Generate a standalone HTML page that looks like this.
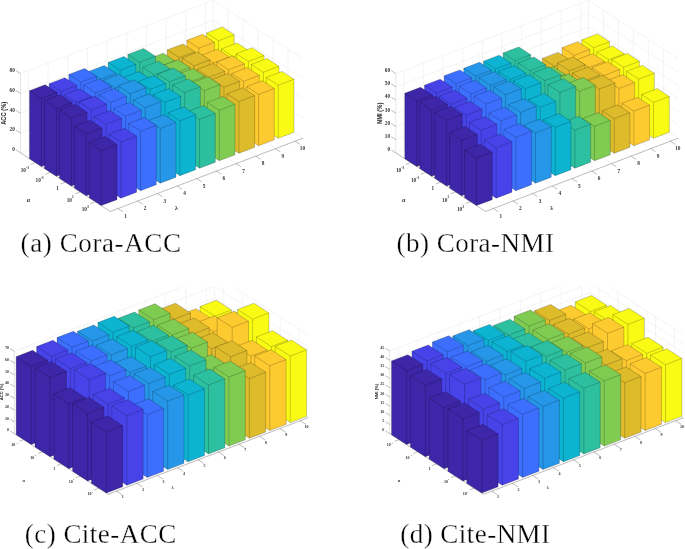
<!DOCTYPE html>
<html><head><meta charset="utf-8"><title>Parameter sensitivity</title><style>body{margin:0;background:#fff;overflow:hidden}svg{display:block}
.g{stroke:#e8e8e8;stroke-width:0.5;fill:none}
.a{stroke:#6a6a6a;stroke-width:0.45;fill:none}
.zx{stroke:#d2d2d2;stroke-width:0.55;fill:none}
polygon{stroke:#000;stroke-opacity:0.4;stroke-width:0.5;stroke-linejoin:round}
.e{stroke:#000;stroke-opacity:0.4;stroke-width:0.5;fill:none;stroke-linejoin:round}
.tl{font-family:"Liberation Serif",serif;font-weight:bold;fill:#333}
.zl{font-family:"Liberation Sans",sans-serif;font-weight:bold;fill:#262626}
.cap{font-family:"Liberation Serif",serif;font-size:27px;fill:#000;stroke:#fff;stroke-width:0.3}
</style></head><body>
<svg width="685" height="549" viewBox="0 0 685 549">
<g><line class="g" x1="28.37" y1="149.81" x2="28.37" y2="70.61"/><line class="g" x1="48.04" y1="142.33" x2="48.04" y2="63.13"/><line class="g" x1="67.71" y1="134.85" x2="67.71" y2="55.65"/><line class="g" x1="87.38" y1="127.37" x2="87.38" y2="48.17"/><line class="g" x1="107.05" y1="119.89" x2="107.05" y2="40.69"/><line class="g" x1="126.72" y1="112.41" x2="126.72" y2="33.21"/><line class="g" x1="146.39" y1="104.93" x2="146.39" y2="25.73"/><line class="g" x1="166.06" y1="97.45" x2="166.06" y2="18.25"/><line class="g" x1="185.73" y1="89.97" x2="185.73" y2="10.77"/><line class="g" x1="205.4" y1="82.49" x2="205.4" y2="3.29"/><line class="g" x1="20.5" y1="133" x2="213.27" y2="59.7"/><line class="g" x1="20.5" y1="113.2" x2="213.27" y2="39.9"/><line class="g" x1="20.5" y1="93.4" x2="213.27" y2="20.1"/><line class="g" x1="20.5" y1="73.6" x2="213.27" y2="0.3"/><line class="g" x1="228.22" y1="89.28" x2="228.22" y2="10.08"/><line class="g" x1="243.17" y1="99.06" x2="243.17" y2="19.86"/><line class="g" x1="258.12" y1="108.84" x2="258.12" y2="29.64"/><line class="g" x1="273.07" y1="118.62" x2="273.07" y2="39.42"/><line class="g" x1="288.02" y1="128.4" x2="288.02" y2="49.2"/><line class="g" x1="213.27" y1="79.5" x2="302.97" y2="138.18"/><line class="g" x1="213.27" y1="59.7" x2="302.97" y2="118.38"/><line class="g" x1="213.27" y1="39.9" x2="302.97" y2="98.58"/><line class="g" x1="213.27" y1="20.1" x2="302.97" y2="78.78"/><line class="g" x1="213.27" y1="0.3" x2="302.97" y2="58.98"/><line class="g" x1="28.37" y1="149.81" x2="118.07" y2="208.49"/><line class="g" x1="48.04" y1="142.33" x2="137.74" y2="201.01"/><line class="g" x1="67.71" y1="134.85" x2="157.41" y2="193.53"/><line class="g" x1="87.38" y1="127.37" x2="177.08" y2="186.05"/><line class="g" x1="107.05" y1="119.89" x2="196.75" y2="178.57"/><line class="g" x1="126.72" y1="112.41" x2="216.42" y2="171.09"/><line class="g" x1="146.39" y1="104.93" x2="236.09" y2="163.61"/><line class="g" x1="166.06" y1="97.45" x2="255.76" y2="156.13"/><line class="g" x1="185.73" y1="89.97" x2="275.43" y2="148.65"/><line class="g" x1="205.4" y1="82.49" x2="295.1" y2="141.17"/><line class="g" x1="35.45" y1="162.58" x2="228.22" y2="89.28"/><line class="g" x1="50.4" y1="172.36" x2="243.17" y2="99.06"/><line class="g" x1="65.35" y1="182.14" x2="258.12" y2="108.84"/><line class="g" x1="80.3" y1="191.92" x2="273.07" y2="118.62"/><line class="g" x1="95.25" y1="201.7" x2="288.02" y2="128.4"/><line class="g" x1="213.27" y1="79.5" x2="213.27" y2="0.3"/><line class="g" x1="20.5" y1="152.8" x2="213.27" y2="79.5"/></g>
<g><line class="zx" x1="20.5" y1="152.8" x2="20.5" y2="73.6"/><line class="a" x1="20.5" y1="152.8" x2="110.2" y2="211.48"/><line class="a" x1="110.2" y1="211.48" x2="302.97" y2="138.18"/><line class="a" x1="20.5" y1="152.8" x2="16.02" y2="149.87"/><line class="a" x1="20.5" y1="133" x2="16.02" y2="130.07"/><line class="a" x1="20.5" y1="113.2" x2="16.02" y2="110.27"/><line class="a" x1="20.5" y1="93.4" x2="16.02" y2="90.47"/><line class="a" x1="20.5" y1="73.6" x2="16.02" y2="70.67"/><line class="a" x1="35.45" y1="162.58" x2="30.53" y2="164.45"/><line class="a" x1="50.4" y1="172.36" x2="45.48" y2="174.23"/><line class="a" x1="65.35" y1="182.14" x2="60.43" y2="184.01"/><line class="a" x1="80.3" y1="191.92" x2="75.38" y2="193.79"/><line class="a" x1="95.25" y1="201.7" x2="90.33" y2="203.57"/><line class="a" x1="118.07" y1="208.49" x2="123" y2="211.72"/><line class="a" x1="137.74" y1="201.01" x2="142.67" y2="204.24"/><line class="a" x1="157.41" y1="193.53" x2="162.34" y2="196.76"/><line class="a" x1="177.08" y1="186.05" x2="182.01" y2="189.28"/><line class="a" x1="196.75" y1="178.57" x2="201.68" y2="181.8"/><line class="a" x1="216.42" y1="171.09" x2="221.35" y2="174.32"/><line class="a" x1="236.09" y1="163.61" x2="241.02" y2="166.84"/><line class="a" x1="255.76" y1="156.13" x2="260.69" y2="159.36"/><line class="a" x1="275.43" y1="148.65" x2="280.36" y2="151.88"/><line class="a" x1="295.1" y1="141.17" x2="300.03" y2="144.4"/></g>
<g><text class="tl" x="14.8" y="151.25" text-anchor="end" font-size="5.3">0</text><text class="tl" x="14.8" y="131.45" text-anchor="end" font-size="5.3">20</text><text class="tl" x="14.8" y="111.66" text-anchor="end" font-size="5.3">40</text><text class="tl" x="14.8" y="91.86" text-anchor="end" font-size="5.3">60</text><text class="tl" x="14.8" y="72.06" text-anchor="end" font-size="5.3">80</text><text class="tl" x="28.95" y="172.24" text-anchor="end" font-size="5.3">10<tspan dy="-3.18" font-size="3.6">-3</tspan></text><text class="tl" x="43.9" y="182.02" text-anchor="end" font-size="5.3">10<tspan dy="-3.18" font-size="3.6">-1</tspan></text><text class="tl" x="58.85" y="190.31" text-anchor="end" font-size="5.3">1</text><text class="tl" x="73.8" y="201.58" text-anchor="end" font-size="5.3">10<tspan dy="-3.18" font-size="3.6">1</tspan></text><text class="tl" x="88.75" y="211.36" text-anchor="end" font-size="5.3">10<tspan dy="-3.18" font-size="3.6">3</tspan></text><text class="tl" x="125.47" y="217.54" text-anchor="middle" font-size="5.3">1</text><text class="tl" x="145.14" y="210.06" text-anchor="middle" font-size="5.3">2</text><text class="tl" x="164.81" y="202.58" text-anchor="middle" font-size="5.3">3</text><text class="tl" x="184.48" y="195.1" text-anchor="middle" font-size="5.3">4</text><text class="tl" x="204.15" y="187.62" text-anchor="middle" font-size="5.3">5</text><text class="tl" x="223.82" y="180.14" text-anchor="middle" font-size="5.3">6</text><text class="tl" x="243.49" y="172.66" text-anchor="middle" font-size="5.3">7</text><text class="tl" x="263.16" y="165.18" text-anchor="middle" font-size="5.3">8</text><text class="tl" x="282.83" y="157.7" text-anchor="middle" font-size="5.3">9</text><text class="tl" x="302.5" y="150.22" text-anchor="middle" font-size="5.3">10</text><text class="tl" x="28.4" y="201.89" text-anchor="middle" font-size="5.83">&#945;</text><text class="tl" x="176.4" y="209.75" text-anchor="middle" font-size="5.83">&#955;</text><text class="zl" transform="translate(6.3,113.3) rotate(-90)" text-anchor="middle" font-size="6.4" textLength="23" lengthAdjust="spacingAndGlyphs">ACC (%)</text></g>
<polygon fill="rgb(249,251,21)" points="206.5,91.35 218.46,99.17 234.2,93.19 234.2,34.78 222.24,26.95 206.5,32.94"/><path class="e" d="M206.5,32.94L218.46,40.76L234.2,34.78M218.46,40.76L218.46,99.17"/>
<polygon fill="rgb(249,251,21)" points="221.45,101.13 233.41,108.95 249.15,102.97 249.15,50.79 237.19,42.97 221.45,48.95"/><path class="e" d="M221.45,48.95L233.41,56.78L249.15,50.79M233.41,56.78L233.41,108.95"/>
<polygon fill="rgb(249,251,21)" points="236.4,110.91 248.36,118.73 264.1,112.75 264.1,55.53 252.14,47.7 236.4,53.69"/><path class="e" d="M236.4,53.69L248.36,61.51L264.1,55.53M248.36,61.51L248.36,118.73"/>
<polygon fill="rgb(249,251,21)" points="251.35,120.69 263.31,128.51 279.05,122.53 279.05,66.3 267.09,58.47 251.35,64.46"/><path class="e" d="M251.35,64.46L263.31,72.28L279.05,66.3M263.31,72.28L263.31,128.51"/>
<polygon fill="rgb(249,251,21)" points="266.3,130.47 278.26,138.29 294,132.31 294,79.24 282.04,71.42 266.3,77.4"/><path class="e" d="M266.3,77.4L278.26,85.23L294,79.24M278.26,85.23L278.26,138.29"/>
<polygon fill="rgb(253,202,48)" points="186.83,98.83 198.79,106.65 214.53,100.67 214.53,42.16 202.57,34.33 186.83,40.32"/><path class="e" d="M186.83,40.32L198.79,48.14L214.53,42.16M198.79,48.14L198.79,106.65"/>
<polygon fill="rgb(253,202,48)" points="201.78,108.61 213.74,116.43 229.48,110.45 229.48,56.99 217.52,49.16 201.78,55.15"/><path class="e" d="M201.78,55.15L213.74,62.97L229.48,56.99M213.74,62.97L213.74,116.43"/>
<polygon fill="rgb(253,202,48)" points="216.73,118.39 228.69,126.21 244.43,120.23 244.43,63.8 232.47,55.97 216.73,61.96"/><path class="e" d="M216.73,61.96L228.69,69.78L244.43,63.8M228.69,69.78L228.69,126.21"/>
<polygon fill="rgb(253,202,48)" points="231.68,128.17 243.64,135.99 259.38,130.01 259.38,75.36 247.42,67.54 231.68,73.52"/><path class="e" d="M231.68,73.52L243.64,81.34L259.38,75.36M243.64,81.34L243.64,135.99"/>
<polygon fill="rgb(253,202,48)" points="246.63,137.95 258.59,145.77 274.33,139.79 274.33,88.51 262.37,80.68 246.63,86.67"/><path class="e" d="M246.63,86.67L258.59,94.49L274.33,88.51M258.59,94.49L258.59,145.77"/>
<polygon fill="rgb(221,187,43)" points="167.16,106.31 179.12,114.13 194.86,108.15 194.86,51.72 182.9,43.89 167.16,49.88"/><path class="e" d="M167.16,49.88L179.12,57.7L194.86,51.72M179.12,57.7L179.12,114.13"/>
<polygon fill="rgb(221,187,43)" points="182.11,116.09 194.07,123.91 209.81,117.93 209.81,59.91 197.85,52.09 182.11,58.07"/><path class="e" d="M182.11,58.07L194.07,65.9L209.81,59.91M194.07,65.9L194.07,123.91"/>
<polygon fill="rgb(221,187,43)" points="197.06,125.87 209.02,133.69 224.76,127.71 224.76,71.28 212.8,63.45 197.06,69.44"/><path class="e" d="M197.06,69.44L209.02,77.26L224.76,71.28M209.02,77.26L209.02,133.69"/>
<polygon fill="rgb(221,187,43)" points="212.01,135.65 223.97,143.47 239.71,137.49 239.71,81.26 227.75,73.43 212.01,79.42"/><path class="e" d="M212.01,79.42L223.97,87.24L239.71,81.26M223.97,87.24L223.97,143.47"/>
<polygon fill="rgb(221,187,43)" points="226.96,145.43 238.92,153.25 254.66,147.27 254.66,95.59 242.7,87.77 226.96,93.75"/><path class="e" d="M226.96,93.75L238.92,101.57L254.66,95.59M238.92,101.57L238.92,153.25"/>
<polygon fill="rgb(128,203,82)" points="147.49,113.79 159.45,121.61 175.19,115.63 175.19,60.98 163.23,53.16 147.49,59.14"/><path class="e" d="M147.49,59.14L159.45,66.96L175.19,60.98M159.45,66.96L159.45,121.61"/>
<polygon fill="rgb(128,203,82)" points="162.44,123.57 174.4,131.39 190.14,125.41 190.14,67.49 178.18,59.67 162.44,65.65"/><path class="e" d="M162.44,65.65L174.4,73.48L190.14,67.49M174.4,73.48L174.4,131.39"/>
<polygon fill="rgb(128,203,82)" points="177.39,133.35 189.35,141.17 205.09,135.19 205.09,76.28 193.13,68.46 177.39,74.44"/><path class="e" d="M177.39,74.44L189.35,82.27L205.09,76.28M189.35,82.27L189.35,141.17"/>
<polygon fill="rgb(128,203,82)" points="192.34,143.13 204.3,150.95 220.04,144.97 220.04,84.58 208.08,76.75 192.34,82.74"/><path class="e" d="M192.34,82.74L204.3,90.56L220.04,84.58M204.3,90.56L204.3,150.95"/>
<polygon fill="rgb(128,203,82)" points="207.29,152.91 219.25,160.73 234.99,154.75 234.99,104.26 223.03,96.43 207.29,102.42"/><path class="e" d="M207.29,102.42L219.25,110.24L234.99,104.26M219.25,110.24L219.25,160.73"/>
<polygon fill="rgb(45,192,160)" points="127.82,121.27 139.78,129.09 155.52,123.11 155.52,56.28 143.56,48.46 127.82,54.44"/><path class="e" d="M127.82,54.44L139.78,62.27L155.52,56.28M139.78,62.27L139.78,129.09"/>
<polygon fill="rgb(45,192,160)" points="142.77,131.05 154.73,138.87 170.47,132.89 170.47,69.03 158.51,61.21 142.77,67.19"/><path class="e" d="M142.77,67.19L154.73,75.02L170.47,69.03M154.73,75.02L154.73,138.87"/>
<polygon fill="rgb(45,192,160)" points="157.72,140.83 169.68,148.65 185.42,142.67 185.42,75.84 173.46,68.02 157.72,74"/><path class="e" d="M157.72,74L169.68,81.83L185.42,75.84M169.68,81.83L169.68,148.65"/>
<polygon fill="rgb(45,192,160)" points="172.67,150.61 184.63,158.43 200.37,152.45 200.37,86.71 188.41,78.89 172.67,84.87"/><path class="e" d="M172.67,84.87L184.63,92.7L200.37,86.71M184.63,92.7L184.63,158.43"/>
<polygon fill="rgb(45,192,160)" points="187.62,160.39 199.58,168.21 215.32,162.23 215.32,113.42 203.36,105.6 187.62,111.58"/><path class="e" d="M187.62,111.58L199.58,119.41L215.32,113.42M199.58,119.41L199.58,168.21"/>
<polygon fill="rgb(12,180,210)" points="108.15,128.75 120.11,136.57 135.85,130.59 135.85,64.26 123.89,56.43 108.15,62.42"/><path class="e" d="M108.15,62.42L120.11,70.24L135.85,64.26M120.11,70.24L120.11,136.57"/>
<polygon fill="rgb(12,180,210)" points="123.1,138.53 135.06,146.35 150.8,140.37 150.8,79.38 138.84,71.56 123.1,77.54"/><path class="e" d="M123.1,77.54L135.06,85.37L150.8,79.38M135.06,85.37L135.06,146.35"/>
<polygon fill="rgb(12,180,210)" points="138.05,148.31 150.01,156.13 165.75,150.15 165.75,83.42 153.79,75.6 138.05,81.58"/><path class="e" d="M138.05,81.58L150.01,89.41L165.75,83.42M150.01,89.41L150.01,156.13"/>
<polygon fill="rgb(12,180,210)" points="153,158.09 164.96,165.91 180.7,159.93 180.7,96.37 168.74,88.55 153,94.53"/><path class="e" d="M153,94.53L164.96,102.35L180.7,96.37M164.96,102.35L164.96,165.91"/>
<polygon fill="rgb(12,180,210)" points="167.95,167.87 179.91,175.69 195.65,169.71 195.65,114.76 183.69,106.94 167.95,112.92"/><path class="e" d="M167.95,112.92L179.91,120.75L195.65,114.76M179.91,120.75L179.91,175.69"/>
<polygon fill="rgb(37,150,232)" points="88.48,136.23 100.44,144.05 116.18,138.07 116.18,73.32 104.22,65.5 88.48,71.48"/><path class="e" d="M88.48,71.48L100.44,79.31L116.18,73.32M100.44,79.31L100.44,144.05"/>
<polygon fill="rgb(37,150,232)" points="103.43,146.01 115.39,153.83 131.13,147.85 131.13,82.01 119.17,74.19 103.43,80.17"/><path class="e" d="M103.43,80.17L115.39,88L131.13,82.01M115.39,88L115.39,153.83"/>
<polygon fill="rgb(37,150,232)" points="118.38,155.79 130.34,163.61 146.08,157.63 146.08,87.83 134.12,80.01 118.38,85.99"/><path class="e" d="M118.38,85.99L130.34,93.82L146.08,87.83M130.34,93.82L130.34,163.61"/>
<polygon fill="rgb(37,150,232)" points="133.33,165.57 145.29,173.39 161.03,167.41 161.03,101.67 149.07,93.85 133.33,99.83"/><path class="e" d="M133.33,99.83L145.29,107.66L161.03,101.67M145.29,107.66L145.29,173.39"/>
<polygon fill="rgb(37,150,232)" points="148.28,175.35 160.24,183.17 175.98,177.19 175.98,122.44 164.02,114.62 148.28,120.6"/><path class="e" d="M148.28,120.6L160.24,128.43L175.98,122.44M160.24,128.43L160.24,183.17"/>
<polygon fill="rgb(60,111,253)" points="68.81,143.71 80.77,151.53 96.51,145.55 96.51,76.25 84.55,68.42 68.81,74.41"/><path class="e" d="M68.81,74.41L80.77,82.23L96.51,76.25M80.77,82.23L80.77,151.53"/>
<polygon fill="rgb(60,111,253)" points="83.76,153.49 95.72,161.31 111.46,155.33 111.46,86.72 99.5,78.9 83.76,84.88"/><path class="e" d="M83.76,84.88L95.72,92.71L111.46,86.72M95.72,92.71L95.72,161.31"/>
<polygon fill="rgb(60,111,253)" points="98.71,163.27 110.67,171.09 126.41,165.11 126.41,96.4 114.45,88.58 98.71,94.56"/><path class="e" d="M98.71,94.56L110.67,102.39L126.41,96.4M110.67,102.39L110.67,171.09"/>
<polygon fill="rgb(60,111,253)" points="113.66,173.05 125.62,180.87 141.36,174.89 141.36,110.24 129.4,102.42 113.66,108.4"/><path class="e" d="M113.66,108.4L125.62,116.23L141.36,110.24M125.62,116.23L125.62,180.87"/>
<polygon fill="rgb(60,111,253)" points="128.61,182.83 140.57,190.65 156.31,184.67 156.31,125.27 144.35,117.44 128.61,123.43"/><path class="e" d="M128.61,123.43L140.57,131.25L156.31,125.27M140.57,131.25L140.57,190.65"/>
<polygon fill="rgb(71,67,233)" points="49.14,151.19 61.1,159.01 76.84,153.03 76.84,85.51 64.88,77.69 49.14,83.67"/><path class="e" d="M49.14,83.67L61.1,91.49L76.84,85.51M61.1,91.49L61.1,159.01"/>
<polygon fill="rgb(71,67,233)" points="64.09,160.97 76.05,168.79 91.79,162.81 91.79,96.58 79.83,88.75 64.09,94.74"/><path class="e" d="M64.09,94.74L76.05,102.56L91.79,96.58M76.05,102.56L76.05,168.79"/>
<polygon fill="rgb(71,67,233)" points="79.04,170.75 91,178.57 106.74,172.59 106.74,103.98 94.78,96.16 79.04,102.14"/><path class="e" d="M79.04,102.14L91,109.97L106.74,103.98M91,109.97L91,178.57"/>
<polygon fill="rgb(71,67,233)" points="93.99,180.53 105.95,188.35 121.69,182.37 121.69,118.32 109.73,110.49 93.99,116.48"/><path class="e" d="M93.99,116.48L105.95,124.3L121.69,118.32M105.95,124.3L105.95,188.35"/>
<polygon fill="rgb(71,67,233)" points="108.94,190.31 120.9,198.13 136.64,192.15 136.64,136.11 124.68,128.29 108.94,134.27"/><path class="e" d="M108.94,134.27L120.9,142.1L136.64,136.11M120.9,142.1L120.9,198.13"/>
<polygon fill="rgb(62,38,168)" points="29.47,158.67 41.43,166.49 57.17,160.51 57.17,92.59 45.21,84.77 29.47,90.75"/><path class="e" d="M29.47,90.75L41.43,98.58L57.17,92.59M41.43,98.58L41.43,166.49"/>
<polygon fill="rgb(62,38,168)" points="44.42,168.45 56.38,176.27 72.12,170.29 72.12,102.57 60.16,94.75 44.42,100.73"/><path class="e" d="M44.42,100.73L56.38,108.56L72.12,102.57M56.38,108.56L56.38,176.27"/>
<polygon fill="rgb(62,38,168)" points="59.37,178.23 71.33,186.05 87.07,180.07 87.07,112.15 75.11,104.33 59.37,110.31"/><path class="e" d="M59.37,110.31L71.33,118.14L87.07,112.15M71.33,118.14L71.33,186.05"/>
<polygon fill="rgb(62,38,168)" points="74.32,188.01 86.28,195.83 102.02,189.85 102.02,127.97 90.06,120.15 74.32,126.13"/><path class="e" d="M74.32,126.13L86.28,133.96L102.02,127.97M86.28,133.96L86.28,195.83"/>
<polygon fill="rgb(62,38,168)" points="89.27,197.79 101.23,205.61 116.97,199.63 116.97,144.39 105.01,136.56 89.27,142.55"/><path class="e" d="M89.27,142.55L101.23,150.37L116.97,144.39M101.23,150.37L101.23,205.61"/>
<g><line class="g" x1="403.67" y1="149.81" x2="403.67" y2="70.61"/><line class="g" x1="423.34" y1="142.33" x2="423.34" y2="63.13"/><line class="g" x1="443.01" y1="134.85" x2="443.01" y2="55.65"/><line class="g" x1="462.68" y1="127.37" x2="462.68" y2="48.17"/><line class="g" x1="482.35" y1="119.89" x2="482.35" y2="40.69"/><line class="g" x1="502.02" y1="112.41" x2="502.02" y2="33.21"/><line class="g" x1="521.69" y1="104.93" x2="521.69" y2="25.73"/><line class="g" x1="541.36" y1="97.45" x2="541.36" y2="18.25"/><line class="g" x1="561.03" y1="89.97" x2="561.03" y2="10.77"/><line class="g" x1="580.7" y1="82.49" x2="580.7" y2="3.29"/><line class="g" x1="395.8" y1="139.6" x2="588.57" y2="66.3"/><line class="g" x1="395.8" y1="126.4" x2="588.57" y2="53.1"/><line class="g" x1="395.8" y1="113.2" x2="588.57" y2="39.9"/><line class="g" x1="395.8" y1="100" x2="588.57" y2="26.7"/><line class="g" x1="395.8" y1="86.8" x2="588.57" y2="13.5"/><line class="g" x1="395.8" y1="73.6" x2="588.57" y2="0.3"/><line class="g" x1="603.52" y1="89.28" x2="603.52" y2="10.08"/><line class="g" x1="618.47" y1="99.06" x2="618.47" y2="19.86"/><line class="g" x1="633.42" y1="108.84" x2="633.42" y2="29.64"/><line class="g" x1="648.37" y1="118.62" x2="648.37" y2="39.42"/><line class="g" x1="663.32" y1="128.4" x2="663.32" y2="49.2"/><line class="g" x1="588.57" y1="79.5" x2="678.27" y2="138.18"/><line class="g" x1="588.57" y1="66.3" x2="678.27" y2="124.98"/><line class="g" x1="588.57" y1="53.1" x2="678.27" y2="111.78"/><line class="g" x1="588.57" y1="39.9" x2="678.27" y2="98.58"/><line class="g" x1="588.57" y1="26.7" x2="678.27" y2="85.38"/><line class="g" x1="588.57" y1="13.5" x2="678.27" y2="72.18"/><line class="g" x1="588.57" y1="0.3" x2="678.27" y2="58.98"/><line class="g" x1="403.67" y1="149.81" x2="493.37" y2="208.49"/><line class="g" x1="423.34" y1="142.33" x2="513.04" y2="201.01"/><line class="g" x1="443.01" y1="134.85" x2="532.71" y2="193.53"/><line class="g" x1="462.68" y1="127.37" x2="552.38" y2="186.05"/><line class="g" x1="482.35" y1="119.89" x2="572.05" y2="178.57"/><line class="g" x1="502.02" y1="112.41" x2="591.72" y2="171.09"/><line class="g" x1="521.69" y1="104.93" x2="611.39" y2="163.61"/><line class="g" x1="541.36" y1="97.45" x2="631.06" y2="156.13"/><line class="g" x1="561.03" y1="89.97" x2="650.73" y2="148.65"/><line class="g" x1="580.7" y1="82.49" x2="670.4" y2="141.17"/><line class="g" x1="410.75" y1="162.58" x2="603.52" y2="89.28"/><line class="g" x1="425.7" y1="172.36" x2="618.47" y2="99.06"/><line class="g" x1="440.65" y1="182.14" x2="633.42" y2="108.84"/><line class="g" x1="455.6" y1="191.92" x2="648.37" y2="118.62"/><line class="g" x1="470.55" y1="201.7" x2="663.32" y2="128.4"/><line class="g" x1="588.57" y1="79.5" x2="588.57" y2="0.3"/><line class="g" x1="395.8" y1="152.8" x2="588.57" y2="79.5"/></g>
<g><line class="zx" x1="395.8" y1="152.8" x2="395.8" y2="73.6"/><line class="a" x1="395.8" y1="152.8" x2="485.5" y2="211.48"/><line class="a" x1="485.5" y1="211.48" x2="678.27" y2="138.18"/><line class="a" x1="395.8" y1="152.8" x2="391.31" y2="149.87"/><line class="a" x1="395.8" y1="139.6" x2="391.31" y2="136.67"/><line class="a" x1="395.8" y1="126.4" x2="391.31" y2="123.47"/><line class="a" x1="395.8" y1="113.2" x2="391.31" y2="110.27"/><line class="a" x1="395.8" y1="100" x2="391.31" y2="97.07"/><line class="a" x1="395.8" y1="86.8" x2="391.31" y2="83.87"/><line class="a" x1="395.8" y1="73.6" x2="391.31" y2="70.67"/><line class="a" x1="410.75" y1="162.58" x2="405.83" y2="164.45"/><line class="a" x1="425.7" y1="172.36" x2="420.78" y2="174.23"/><line class="a" x1="440.65" y1="182.14" x2="435.73" y2="184.01"/><line class="a" x1="455.6" y1="191.92" x2="450.68" y2="193.79"/><line class="a" x1="470.55" y1="201.7" x2="465.63" y2="203.57"/><line class="a" x1="493.37" y1="208.49" x2="498.3" y2="211.72"/><line class="a" x1="513.04" y1="201.01" x2="517.97" y2="204.24"/><line class="a" x1="532.71" y1="193.53" x2="537.64" y2="196.76"/><line class="a" x1="552.38" y1="186.05" x2="557.31" y2="189.28"/><line class="a" x1="572.05" y1="178.57" x2="576.98" y2="181.8"/><line class="a" x1="591.72" y1="171.09" x2="596.65" y2="174.32"/><line class="a" x1="611.39" y1="163.61" x2="616.32" y2="166.84"/><line class="a" x1="631.06" y1="156.13" x2="635.99" y2="159.36"/><line class="a" x1="650.73" y1="148.65" x2="655.66" y2="151.88"/><line class="a" x1="670.4" y1="141.17" x2="675.33" y2="144.4"/></g>
<g><text class="tl" x="390.1" y="151.25" text-anchor="end" font-size="5.3">0</text><text class="tl" x="390.1" y="138.06" text-anchor="end" font-size="5.3">10</text><text class="tl" x="390.1" y="124.86" text-anchor="end" font-size="5.3">20</text><text class="tl" x="390.1" y="111.66" text-anchor="end" font-size="5.3">30</text><text class="tl" x="390.1" y="98.45" text-anchor="end" font-size="5.3">40</text><text class="tl" x="390.1" y="85.26" text-anchor="end" font-size="5.3">50</text><text class="tl" x="390.1" y="72.06" text-anchor="end" font-size="5.3">60</text><text class="tl" x="404.25" y="172.24" text-anchor="end" font-size="5.3">10<tspan dy="-3.18" font-size="3.6">-3</tspan></text><text class="tl" x="419.2" y="182.02" text-anchor="end" font-size="5.3">10<tspan dy="-3.18" font-size="3.6">-1</tspan></text><text class="tl" x="434.15" y="190.31" text-anchor="end" font-size="5.3">1</text><text class="tl" x="449.1" y="201.58" text-anchor="end" font-size="5.3">10<tspan dy="-3.18" font-size="3.6">1</tspan></text><text class="tl" x="464.05" y="211.36" text-anchor="end" font-size="5.3">10<tspan dy="-3.18" font-size="3.6">3</tspan></text><text class="tl" x="500.77" y="217.54" text-anchor="middle" font-size="5.3">1</text><text class="tl" x="520.44" y="210.06" text-anchor="middle" font-size="5.3">2</text><text class="tl" x="540.11" y="202.58" text-anchor="middle" font-size="5.3">3</text><text class="tl" x="559.78" y="195.1" text-anchor="middle" font-size="5.3">4</text><text class="tl" x="579.45" y="187.62" text-anchor="middle" font-size="5.3">5</text><text class="tl" x="599.12" y="180.14" text-anchor="middle" font-size="5.3">6</text><text class="tl" x="618.79" y="172.66" text-anchor="middle" font-size="5.3">7</text><text class="tl" x="638.46" y="165.18" text-anchor="middle" font-size="5.3">8</text><text class="tl" x="658.13" y="157.7" text-anchor="middle" font-size="5.3">9</text><text class="tl" x="677.8" y="150.22" text-anchor="middle" font-size="5.3">10</text><text class="tl" x="403.7" y="201.89" text-anchor="middle" font-size="5.83">&#945;</text><text class="tl" x="551.7" y="209.75" text-anchor="middle" font-size="5.83">&#955;</text><text class="zl" transform="translate(381.9,113.3) rotate(-90)" text-anchor="middle" font-size="6.4" textLength="21.5" lengthAdjust="spacingAndGlyphs">NMI (%)</text></g>
<polygon fill="rgb(249,251,21)" points="581.8,91.35 593.76,99.17 609.5,93.19 609.5,41.71 597.54,33.88 581.8,39.87"/><path class="e" d="M581.8,39.87L593.76,47.69L609.5,41.71M593.76,47.69L593.76,99.17"/>
<polygon fill="rgb(249,251,21)" points="596.75,101.13 608.71,108.95 624.45,102.97 624.45,53.73 612.49,45.91 596.75,51.89"/><path class="e" d="M596.75,51.89L608.71,59.72L624.45,53.73M608.71,59.72L608.71,108.95"/>
<polygon fill="rgb(249,251,21)" points="611.7,110.91 623.66,118.73 639.4,112.75 639.4,61.27 627.44,53.44 611.7,59.43"/><path class="e" d="M611.7,59.43L623.66,67.25L639.4,61.27M623.66,67.25L623.66,118.73"/>
<polygon fill="rgb(249,251,21)" points="626.65,120.69 638.61,128.51 654.35,122.53 654.35,73.16 642.39,65.34 626.65,71.32"/><path class="e" d="M626.65,71.32L638.61,79.14L654.35,73.16M638.61,79.14L638.61,128.51"/>
<polygon fill="rgb(249,251,21)" points="641.6,130.47 653.56,138.29 669.3,132.31 669.3,96.4 657.34,88.58 641.6,94.56"/><path class="e" d="M641.6,94.56L653.56,102.39L669.3,96.4M653.56,102.39L653.56,138.29"/>
<polygon fill="rgb(253,202,48)" points="562.13,98.83 574.09,106.65 589.83,100.67 589.83,49.45 577.87,41.63 562.13,47.61"/><path class="e" d="M562.13,47.61L574.09,55.44L589.83,49.45M574.09,55.44L574.09,106.65"/>
<polygon fill="rgb(253,202,48)" points="577.08,108.61 589.04,116.43 604.78,110.45 604.78,61.48 592.82,53.65 577.08,59.64"/><path class="e" d="M577.08,59.64L589.04,67.46L604.78,61.48M589.04,67.46L589.04,116.43"/>
<polygon fill="rgb(253,202,48)" points="592.03,118.39 603.99,126.21 619.73,120.23 619.73,69.54 607.77,61.72 592.03,67.7"/><path class="e" d="M592.03,67.7L603.99,75.52L619.73,69.54M603.99,75.52L603.99,126.21"/>
<polygon fill="rgb(253,202,48)" points="606.98,128.17 618.94,135.99 634.68,130.01 634.68,82.49 622.72,74.66 606.98,80.65"/><path class="e" d="M606.98,80.65L618.94,88.47L634.68,82.49M618.94,88.47L618.94,135.99"/>
<polygon fill="rgb(253,202,48)" points="621.93,137.95 633.89,145.77 649.63,139.79 649.63,105.2 637.67,97.38 621.93,103.36"/><path class="e" d="M621.93,103.36L633.89,111.19L649.63,105.2M633.89,111.19L633.89,145.77"/>
<polygon fill="rgb(221,187,43)" points="542.46,106.31 554.42,114.13 570.16,108.15 570.16,60.23 558.2,52.41 542.46,58.39"/><path class="e" d="M542.46,58.39L554.42,66.22L570.16,60.23M554.42,66.22L554.42,114.13"/>
<polygon fill="rgb(221,187,43)" points="557.41,116.09 569.37,123.91 585.11,117.93 585.11,64.86 573.15,57.04 557.41,63.02"/><path class="e" d="M557.41,63.02L569.37,70.85L585.11,64.86M569.37,70.85L569.37,123.91"/>
<polygon fill="rgb(221,187,43)" points="572.36,125.87 584.32,133.69 600.06,127.71 600.06,74.91 588.1,67.08 572.36,73.07"/><path class="e" d="M572.36,73.07L584.32,80.89L600.06,74.91M584.32,80.89L584.32,133.69"/>
<polygon fill="rgb(221,187,43)" points="587.31,135.65 599.27,143.47 615.01,137.49 615.01,83.1 603.05,75.28 587.31,81.26"/><path class="e" d="M587.31,81.26L599.27,89.09L615.01,83.1M599.27,89.09L599.27,143.47"/>
<polygon fill="rgb(221,187,43)" points="602.26,145.43 614.22,153.25 629.96,147.27 629.96,112.68 618,104.86 602.26,110.84"/><path class="e" d="M602.26,110.84L614.22,118.67L629.96,112.68M614.22,118.67L614.22,153.25"/>
<polygon fill="rgb(128,203,82)" points="522.79,113.79 534.75,121.61 550.49,115.63 550.49,69.43 538.53,61.6 522.79,67.59"/><path class="e" d="M522.79,67.59L534.75,75.41L550.49,69.43M534.75,75.41L534.75,121.61"/>
<polygon fill="rgb(128,203,82)" points="537.74,123.57 549.7,131.39 565.44,125.41 565.44,74.59 553.48,66.76 537.74,72.75"/><path class="e" d="M537.74,72.75L549.7,80.57L565.44,74.59M549.7,80.57L549.7,131.39"/>
<polygon fill="rgb(128,203,82)" points="552.69,133.35 564.65,141.17 580.39,135.19 580.39,81.73 568.43,73.9 552.69,79.89"/><path class="e" d="M552.69,79.89L564.65,87.71L580.39,81.73M564.65,87.71L564.65,141.17"/>
<polygon fill="rgb(128,203,82)" points="567.64,143.13 579.6,150.95 595.34,144.97 595.34,85.3 583.38,77.48 567.64,83.46"/><path class="e" d="M567.64,83.46L579.6,91.29L595.34,85.3M579.6,91.29L579.6,150.95"/>
<polygon fill="rgb(128,203,82)" points="582.59,152.91 594.55,160.73 610.29,154.75 610.29,120.43 598.33,112.6 582.59,118.59"/><path class="e" d="M582.59,118.59L594.55,126.41L610.29,120.43M594.55,126.41L594.55,160.73"/>
<polygon fill="rgb(45,192,160)" points="503.12,121.27 515.08,129.09 530.82,123.11 530.82,54.73 518.86,46.91 503.12,52.89"/><path class="e" d="M503.12,52.89L515.08,60.72L530.82,54.73M515.08,60.72L515.08,129.09"/>
<polygon fill="rgb(45,192,160)" points="518.07,131.05 530.03,138.87 545.77,132.89 545.77,64.78 533.81,56.95 518.07,62.94"/><path class="e" d="M518.07,62.94L530.03,70.76L545.77,64.78M530.03,70.76L530.03,138.87"/>
<polygon fill="rgb(45,192,160)" points="533.02,140.83 544.98,148.65 560.72,142.67 560.72,74.69 548.76,66.86 533.02,72.85"/><path class="e" d="M533.02,72.85L544.98,80.67L560.72,74.69M544.98,80.67L544.98,148.65"/>
<polygon fill="rgb(45,192,160)" points="547.97,150.61 559.93,158.43 575.67,152.45 575.67,86.45 563.71,78.62 547.97,84.61"/><path class="e" d="M547.97,84.61L559.93,92.43L575.67,86.45M559.93,92.43L559.93,158.43"/>
<polygon fill="rgb(45,192,160)" points="562.92,160.39 574.88,168.21 590.62,162.23 590.62,124.08 578.66,116.26 562.92,122.24"/><path class="e" d="M562.92,122.24L574.88,130.06L590.62,124.08M574.88,130.06L574.88,168.21"/>
<polygon fill="rgb(12,180,210)" points="483.45,128.75 495.41,136.57 511.15,130.59 511.15,63 499.19,55.18 483.45,61.16"/><path class="e" d="M483.45,61.16L495.41,68.99L511.15,63M495.41,68.99L495.41,136.57"/>
<polygon fill="rgb(12,180,210)" points="498.4,138.53 510.36,146.35 526.1,140.37 526.1,73.31 514.14,65.49 498.4,71.47"/><path class="e" d="M498.4,71.47L510.36,79.3L526.1,73.31M510.36,79.3L510.36,146.35"/>
<polygon fill="rgb(12,180,210)" points="513.35,148.31 525.31,156.13 541.05,150.15 541.05,82.7 529.09,74.87 513.35,80.86"/><path class="e" d="M513.35,80.86L525.31,88.68L541.05,82.7M525.31,88.68L525.31,156.13"/>
<polygon fill="rgb(12,180,210)" points="528.3,158.09 540.26,165.91 556,159.93 556,101.32 544.04,93.5 528.3,99.48"/><path class="e" d="M528.3,99.48L540.26,107.3L556,101.32M540.26,107.3L540.26,165.91"/>
<polygon fill="rgb(12,180,210)" points="543.25,167.87 555.21,175.69 570.95,169.71 570.95,121.4 558.99,113.57 543.25,119.56"/><path class="e" d="M543.25,119.56L555.21,127.38L570.95,121.4M555.21,127.38L555.21,175.69"/>
<polygon fill="rgb(37,150,232)" points="463.78,136.23 475.74,144.05 491.48,138.07 491.48,70.09 479.52,62.26 463.78,68.25"/><path class="e" d="M463.78,68.25L475.74,76.07L491.48,70.09M475.74,76.07L475.74,144.05"/>
<polygon fill="rgb(37,150,232)" points="478.73,146.01 490.69,153.83 506.43,147.85 506.43,79.47 494.47,71.65 478.73,77.63"/><path class="e" d="M478.73,77.63L490.69,85.46L506.43,79.47M490.69,85.46L490.69,153.83"/>
<polygon fill="rgb(37,150,232)" points="493.68,155.79 505.64,163.61 521.38,157.63 521.38,88.72 509.42,80.9 493.68,86.88"/><path class="e" d="M493.68,86.88L505.64,94.71L521.38,88.72M505.64,94.71L505.64,163.61"/>
<polygon fill="rgb(37,150,232)" points="508.63,165.57 520.59,173.39 536.33,167.41 536.33,106.42 524.37,98.6 508.63,104.58"/><path class="e" d="M508.63,104.58L520.59,112.41L536.33,106.42M520.59,112.41L520.59,173.39"/>
<polygon fill="rgb(37,150,232)" points="523.58,175.35 535.54,183.17 551.28,177.19 551.28,127.03 539.32,119.2 523.58,125.19"/><path class="e" d="M523.58,125.19L535.54,133.01L551.28,127.03M535.54,133.01L535.54,183.17"/>
<polygon fill="rgb(60,111,253)" points="444.11,143.71 456.07,151.53 471.81,145.55 471.81,77.7 459.85,69.88 444.11,75.86"/><path class="e" d="M444.11,75.86L456.07,83.68L471.81,77.7M456.07,83.68L456.07,151.53"/>
<polygon fill="rgb(60,111,253)" points="459.06,153.49 471.02,161.31 486.76,155.33 486.76,88.01 474.8,80.18 459.06,86.17"/><path class="e" d="M459.06,86.17L471.02,93.99L486.76,88.01M471.02,93.99L471.02,161.31"/>
<polygon fill="rgb(60,111,253)" points="474.01,163.27 485.97,171.09 501.71,165.11 501.71,98.05 489.75,90.23 474.01,96.21"/><path class="e" d="M474.01,96.21L485.97,104.04L501.71,98.05M485.97,104.04L485.97,171.09"/>
<polygon fill="rgb(60,111,253)" points="488.96,173.05 500.92,180.87 516.66,174.89 516.66,114.96 504.7,107.14 488.96,113.12"/><path class="e" d="M488.96,113.12L500.92,120.94L516.66,114.96M500.92,120.94L500.92,180.87"/>
<polygon fill="rgb(60,111,253)" points="503.91,182.83 515.87,190.65 531.61,184.67 531.61,131.34 519.65,123.52 503.91,129.5"/><path class="e" d="M503.91,129.5L515.87,137.32L531.61,131.34M515.87,137.32L515.87,190.65"/>
<polygon fill="rgb(71,67,233)" points="424.44,151.19 436.4,159.01 452.14,153.03 452.14,87.03 440.18,79.2 424.44,85.19"/><path class="e" d="M424.44,85.19L436.4,93.01L452.14,87.03M436.4,93.01L436.4,159.01"/>
<polygon fill="rgb(71,67,233)" points="439.39,160.97 451.35,168.79 467.09,162.81 467.09,98.13 455.13,90.3 439.39,96.29"/><path class="e" d="M439.39,96.29L451.35,104.11L467.09,98.13M451.35,104.11L451.35,168.79"/>
<polygon fill="rgb(71,67,233)" points="454.34,170.75 466.3,178.57 482.04,172.59 482.04,109.23 470.08,101.4 454.34,107.39"/><path class="e" d="M454.34,107.39L466.3,115.21L482.04,109.23M466.3,115.21L466.3,178.57"/>
<polygon fill="rgb(71,67,233)" points="469.29,180.53 481.25,188.35 496.99,182.37 496.99,124.29 485.03,116.46 469.29,122.45"/><path class="e" d="M469.29,122.45L481.25,130.27L496.99,124.29M481.25,130.27L481.25,188.35"/>
<polygon fill="rgb(71,67,233)" points="484.24,190.31 496.2,198.13 511.94,192.15 511.94,141.72 499.98,133.9 484.24,139.88"/><path class="e" d="M484.24,139.88L496.2,147.71L511.94,141.72M496.2,147.71L496.2,198.13"/>
<polygon fill="rgb(62,38,168)" points="404.77,158.67 416.73,166.49 432.47,160.51 432.47,95.04 420.51,87.21 404.77,93.2"/><path class="e" d="M404.77,93.2L416.73,101.02L432.47,95.04M416.73,101.02L416.73,166.49"/>
<polygon fill="rgb(62,38,168)" points="419.72,168.45 431.68,176.27 447.42,170.29 447.42,104.02 435.46,96.2 419.72,102.18"/><path class="e" d="M419.72,102.18L431.68,110.01L447.42,104.02M431.68,110.01L431.68,176.27"/>
<polygon fill="rgb(62,38,168)" points="434.67,178.23 446.63,186.05 462.37,180.07 462.37,114.2 450.41,106.38 434.67,112.36"/><path class="e" d="M434.67,112.36L446.63,120.18L462.37,114.2M446.63,120.18L446.63,186.05"/>
<polygon fill="rgb(62,38,168)" points="449.62,188.01 461.58,195.83 477.32,189.85 477.32,134.41 465.36,126.58 449.62,132.57"/><path class="e" d="M449.62,132.57L461.58,140.39L477.32,134.41M461.58,140.39L461.58,195.83"/>
<polygon fill="rgb(62,38,168)" points="464.57,197.79 476.53,205.61 492.27,199.63 492.27,152.11 480.31,144.28 464.57,150.27"/><path class="e" d="M464.57,150.27L476.53,158.09L492.27,152.11M476.53,158.09L476.53,205.61"/>
<g><line class="g" x1="22.47" y1="430.47" x2="22.47" y2="348.17"/><line class="g" x1="42.89" y1="422.64" x2="42.89" y2="340.34"/><line class="g" x1="63.31" y1="414.81" x2="63.31" y2="332.51"/><line class="g" x1="83.73" y1="406.98" x2="83.73" y2="324.68"/><line class="g" x1="104.15" y1="399.15" x2="104.15" y2="316.85"/><line class="g" x1="124.57" y1="391.32" x2="124.57" y2="309.02"/><line class="g" x1="144.99" y1="383.49" x2="144.99" y2="301.19"/><line class="g" x1="165.41" y1="375.66" x2="165.41" y2="293.36"/><line class="g" x1="185.83" y1="367.83" x2="185.83" y2="286.8"/><line class="g" x1="206.25" y1="360" x2="206.25" y2="286.8"/><line class="g" x1="14.3" y1="421.84" x2="214.42" y2="345.11"/><line class="g" x1="14.3" y1="410.09" x2="214.42" y2="333.35"/><line class="g" x1="14.3" y1="398.33" x2="214.42" y2="321.59"/><line class="g" x1="14.3" y1="386.57" x2="214.42" y2="309.84"/><line class="g" x1="14.3" y1="374.81" x2="214.42" y2="298.08"/><line class="g" x1="14.3" y1="363.06" x2="213.17" y2="286.8"/><line class="g" x1="14.3" y1="351.3" x2="182.51" y2="286.8"/><line class="g" x1="223.82" y1="362.94" x2="223.82" y2="286.8"/><line class="g" x1="242.62" y1="375.08" x2="242.62" y2="292.78"/><line class="g" x1="261.42" y1="387.22" x2="261.42" y2="304.92"/><line class="g" x1="280.22" y1="399.36" x2="280.22" y2="317.06"/><line class="g" x1="299.02" y1="411.5" x2="299.02" y2="329.2"/><line class="g" x1="214.42" y1="356.87" x2="308.42" y2="417.57"/><line class="g" x1="214.42" y1="345.11" x2="308.42" y2="405.81"/><line class="g" x1="214.42" y1="333.35" x2="308.42" y2="394.05"/><line class="g" x1="214.42" y1="321.59" x2="308.42" y2="382.29"/><line class="g" x1="214.42" y1="309.84" x2="308.42" y2="370.54"/><line class="g" x1="214.42" y1="298.08" x2="308.42" y2="358.78"/><line class="g" x1="215.15" y1="286.8" x2="308.42" y2="347.02"/><line class="g" x1="233.36" y1="286.8" x2="308.42" y2="335.27"/><line class="g" x1="22.47" y1="430.47" x2="116.47" y2="491.17"/><line class="g" x1="42.89" y1="422.64" x2="136.89" y2="483.34"/><line class="g" x1="63.31" y1="414.81" x2="157.31" y2="475.51"/><line class="g" x1="83.73" y1="406.98" x2="177.73" y2="467.68"/><line class="g" x1="104.15" y1="399.15" x2="198.15" y2="459.85"/><line class="g" x1="124.57" y1="391.32" x2="218.57" y2="452.02"/><line class="g" x1="144.99" y1="383.49" x2="238.99" y2="444.19"/><line class="g" x1="165.41" y1="375.66" x2="259.41" y2="436.36"/><line class="g" x1="185.83" y1="367.83" x2="279.83" y2="428.53"/><line class="g" x1="206.25" y1="360" x2="300.25" y2="420.7"/><line class="g" x1="23.7" y1="439.67" x2="223.82" y2="362.94"/><line class="g" x1="42.5" y1="451.81" x2="242.62" y2="375.08"/><line class="g" x1="61.3" y1="463.95" x2="261.42" y2="387.22"/><line class="g" x1="80.1" y1="476.09" x2="280.22" y2="399.36"/><line class="g" x1="98.9" y1="488.23" x2="299.02" y2="411.5"/><line class="g" x1="214.42" y1="356.87" x2="214.42" y2="286.8"/><line class="g" x1="14.3" y1="433.6" x2="214.42" y2="356.87"/></g>
<g><line class="zx" x1="14.3" y1="433.6" x2="14.3" y2="351.3"/><line class="a" x1="14.3" y1="433.6" x2="108.3" y2="494.3"/><line class="a" x1="108.3" y1="494.3" x2="308.42" y2="417.57"/><line class="a" x1="14.3" y1="433.6" x2="10.16" y2="430.93"/><line class="a" x1="14.3" y1="421.84" x2="10.16" y2="419.17"/><line class="a" x1="14.3" y1="410.09" x2="10.16" y2="407.41"/><line class="a" x1="14.3" y1="398.33" x2="10.16" y2="395.66"/><line class="a" x1="14.3" y1="386.57" x2="10.16" y2="383.9"/><line class="a" x1="14.3" y1="374.81" x2="10.16" y2="372.14"/><line class="a" x1="14.3" y1="363.06" x2="10.16" y2="360.39"/><line class="a" x1="14.3" y1="351.3" x2="10.16" y2="348.63"/><line class="a" x1="23.7" y1="439.67" x2="19.21" y2="441.39"/><line class="a" x1="42.5" y1="451.81" x2="38.01" y2="453.53"/><line class="a" x1="61.3" y1="463.95" x2="56.81" y2="465.67"/><line class="a" x1="80.1" y1="476.09" x2="75.61" y2="477.81"/><line class="a" x1="98.9" y1="488.23" x2="94.41" y2="489.95"/><line class="a" x1="116.47" y1="491.17" x2="122.11" y2="494.81"/><line class="a" x1="136.89" y1="483.34" x2="142.53" y2="486.98"/><line class="a" x1="157.31" y1="475.51" x2="162.95" y2="479.15"/><line class="a" x1="177.73" y1="467.68" x2="183.37" y2="471.32"/><line class="a" x1="198.15" y1="459.85" x2="203.79" y2="463.49"/><line class="a" x1="218.57" y1="452.02" x2="224.21" y2="455.66"/><line class="a" x1="238.99" y1="444.19" x2="244.63" y2="447.83"/><line class="a" x1="259.41" y1="436.36" x2="265.05" y2="440"/><line class="a" x1="279.83" y1="428.53" x2="285.47" y2="432.17"/><line class="a" x1="300.25" y1="420.7" x2="305.89" y2="424.34"/></g>
<g><text class="tl" x="9" y="431.3" text-anchor="end" font-size="4">0</text><text class="tl" x="9" y="419.54" text-anchor="end" font-size="4">10</text><text class="tl" x="9" y="407.79" text-anchor="end" font-size="4">20</text><text class="tl" x="9" y="396.03" text-anchor="end" font-size="4">30</text><text class="tl" x="9" y="384.27" text-anchor="end" font-size="4">40</text><text class="tl" x="9" y="372.51" text-anchor="end" font-size="4">50</text><text class="tl" x="9" y="360.76" text-anchor="end" font-size="4">60</text><text class="tl" x="9" y="349" text-anchor="end" font-size="4">70</text><text class="tl" x="17.6" y="446.37" text-anchor="end" font-size="4">10<tspan dy="-2.4" font-size="2.72">-3</tspan></text><text class="tl" x="36.4" y="458.51" text-anchor="end" font-size="4">10<tspan dy="-2.4" font-size="2.72">-1</tspan></text><text class="tl" x="55.2" y="469.53" text-anchor="end" font-size="4">1</text><text class="tl" x="74" y="482.79" text-anchor="end" font-size="4">10<tspan dy="-2.4" font-size="2.72">1</tspan></text><text class="tl" x="92.8" y="494.93" text-anchor="end" font-size="4">10<tspan dy="-2.4" font-size="2.72">3</tspan></text><text class="tl" x="122.77" y="498.37" text-anchor="middle" font-size="4">1</text><text class="tl" x="143.19" y="490.54" text-anchor="middle" font-size="4">2</text><text class="tl" x="163.61" y="482.71" text-anchor="middle" font-size="4">3</text><text class="tl" x="184.03" y="474.88" text-anchor="middle" font-size="4">4</text><text class="tl" x="204.45" y="467.05" text-anchor="middle" font-size="4">5</text><text class="tl" x="224.87" y="459.22" text-anchor="middle" font-size="4">6</text><text class="tl" x="245.29" y="451.39" text-anchor="middle" font-size="4">7</text><text class="tl" x="265.71" y="443.56" text-anchor="middle" font-size="4">8</text><text class="tl" x="286.13" y="435.73" text-anchor="middle" font-size="4">9</text><text class="tl" x="306.55" y="427.9" text-anchor="middle" font-size="4">10</text><text class="tl" x="23.7" y="482.2" text-anchor="middle" font-size="4.4">&#945;</text><text class="tl" x="172.6" y="488.8" text-anchor="middle" font-size="4.4">&#955;</text><text class="zl" transform="translate(3.48,391.9) rotate(-90)" text-anchor="middle" font-size="4.4" textLength="16.5" lengthAdjust="spacingAndGlyphs">ACC (%)</text></g>
<polygon fill="rgb(249,251,21)" points="199.96,364.34 215,374.06 231.34,367.79 231.34,309.95 216.3,300.23 199.96,306.5"/><path class="e" d="M199.96,306.5L215,316.21L231.34,309.95M215,316.21L215,374.06"/>
<polygon fill="rgb(249,251,21)" points="218.76,376.48 233.8,386.2 250.14,379.93 250.14,321.15 235.1,311.43 218.76,317.7"/><path class="e" d="M218.76,317.7L233.8,327.41L250.14,321.15M233.8,327.41L233.8,386.2"/>
<polygon fill="rgb(249,251,21)" points="237.56,388.62 252.6,398.34 268.94,392.07 268.94,312.95 253.9,303.23 237.56,309.5"/><path class="e" d="M237.56,309.5L252.6,319.21L268.94,312.95M252.6,319.21L252.6,398.34"/>
<polygon fill="rgb(249,251,21)" points="256.36,400.76 271.4,410.48 287.74,404.21 287.74,340.37 272.7,330.66 256.36,336.92"/><path class="e" d="M256.36,336.92L271.4,346.63L287.74,340.37M271.4,346.63L271.4,410.48"/>
<polygon fill="rgb(249,251,21)" points="275.16,412.9 290.2,422.62 306.54,416.35 306.54,349.81 291.5,340.09 275.16,346.36"/><path class="e" d="M275.16,346.36L290.2,356.07L306.54,349.81M290.2,356.07L290.2,422.62"/>
<polygon fill="rgb(253,202,48)" points="179.54,372.17 194.58,381.89 210.92,375.62 210.92,318.36 195.88,308.65 179.54,314.92"/><path class="e" d="M179.54,314.92L194.58,324.63L210.92,318.36M194.58,324.63L194.58,381.89"/>
<polygon fill="rgb(253,202,48)" points="198.34,384.31 213.38,394.03 229.72,387.76 229.72,325.45 214.68,315.74 198.34,322"/><path class="e" d="M198.34,322L213.38,331.71L229.72,325.45M213.38,331.71L213.38,394.03"/>
<polygon fill="rgb(253,202,48)" points="217.14,396.45 232.18,406.17 248.52,399.9 248.52,321.13 233.48,311.42 217.14,317.68"/><path class="e" d="M217.14,317.68L232.18,327.39L248.52,321.13M232.18,327.39L232.18,406.17"/>
<polygon fill="rgb(253,202,48)" points="235.94,408.59 250.98,418.31 267.32,412.04 267.32,349.96 252.28,340.25 235.94,346.52"/><path class="e" d="M235.94,346.52L250.98,356.23L267.32,349.96M250.98,356.23L250.98,418.31"/>
<polygon fill="rgb(253,202,48)" points="254.74,420.73 269.78,430.45 286.12,424.18 286.12,359.52 271.08,349.81 254.74,356.07"/><path class="e" d="M254.74,356.07L269.78,365.78L286.12,359.52M269.78,365.78L269.78,430.45"/>
<polygon fill="rgb(221,187,43)" points="159.12,380 174.16,389.72 190.5,383.45 190.5,312.91 175.46,303.2 159.12,309.46"/><path class="e" d="M159.12,309.46L174.16,319.17L190.5,312.91M174.16,319.17L174.16,389.72"/>
<polygon fill="rgb(221,187,43)" points="177.92,392.14 192.96,401.86 209.3,395.59 209.3,327.75 194.26,318.04 177.92,324.31"/><path class="e" d="M177.92,324.31L192.96,334.02L209.3,327.75M192.96,334.02L192.96,401.86"/>
<polygon fill="rgb(221,187,43)" points="196.72,404.28 211.76,414 228.1,407.73 228.1,342.48 213.06,332.77 196.72,339.03"/><path class="e" d="M196.72,339.03L211.76,348.74L228.1,342.48M211.76,348.74L211.76,414"/>
<polygon fill="rgb(221,187,43)" points="215.52,416.42 230.56,426.14 246.9,419.87 246.9,350.5 231.86,340.79 215.52,347.06"/><path class="e" d="M215.52,347.06L230.56,356.77L246.9,350.5M230.56,356.77L230.56,426.14"/>
<polygon fill="rgb(221,187,43)" points="234.32,428.56 249.36,438.28 265.7,432.01 265.7,372.29 250.66,362.57 234.32,368.84"/><path class="e" d="M234.32,368.84L249.36,378.55L265.7,372.29M249.36,378.55L249.36,438.28"/>
<polygon fill="rgb(128,203,82)" points="138.7,387.83 153.74,397.55 170.08,391.28 170.08,313.45 155.04,303.74 138.7,310"/><path class="e" d="M138.7,310L153.74,319.71L170.08,313.45M153.74,319.71L153.74,397.55"/>
<polygon fill="rgb(128,203,82)" points="157.5,399.97 172.54,409.69 188.88,403.42 188.88,328.65 173.84,318.93 157.5,325.2"/><path class="e" d="M157.5,325.2L172.54,334.91L188.88,328.65M172.54,334.91L172.54,409.69"/>
<polygon fill="rgb(128,203,82)" points="176.3,412.11 191.34,421.83 207.68,415.56 207.68,341.96 192.64,332.25 176.3,338.51"/><path class="e" d="M176.3,338.51L191.34,348.23L207.68,341.96M191.34,348.23L191.34,421.83"/>
<polygon fill="rgb(128,203,82)" points="195.1,424.25 210.14,433.97 226.48,427.7 226.48,364.45 211.44,354.74 195.1,361"/><path class="e" d="M195.1,361L210.14,370.71L226.48,364.45M210.14,370.71L210.14,433.97"/>
<polygon fill="rgb(128,203,82)" points="213.9,436.39 228.94,446.11 245.28,439.84 245.28,370.71 230.24,361 213.9,367.26"/><path class="e" d="M213.9,367.26L228.94,376.97L245.28,370.71M228.94,376.97L228.94,446.11"/>
<polygon fill="rgb(45,192,160)" points="118.28,395.66 133.32,405.38 149.66,399.11 149.66,321.75 134.62,312.04 118.28,318.3"/><path class="e" d="M118.28,318.3L133.32,328.01L149.66,321.75M133.32,328.01L133.32,405.38"/>
<polygon fill="rgb(45,192,160)" points="137.08,407.8 152.12,417.52 168.46,411.25 168.46,335.07 153.42,325.35 137.08,331.62"/><path class="e" d="M137.08,331.62L152.12,341.33L168.46,335.07M152.12,341.33L152.12,417.52"/>
<polygon fill="rgb(45,192,160)" points="155.88,419.94 170.92,429.66 187.26,423.39 187.26,345.44 172.22,335.73 155.88,341.99"/><path class="e" d="M155.88,341.99L170.92,351.71L187.26,345.44M170.92,351.71L170.92,429.66"/>
<polygon fill="rgb(45,192,160)" points="174.68,432.08 189.72,441.8 206.06,435.53 206.06,359.7 191.02,349.99 174.68,356.25"/><path class="e" d="M174.68,356.25L189.72,365.96L206.06,359.7M189.72,365.96L189.72,441.8"/>
<polygon fill="rgb(45,192,160)" points="193.48,444.22 208.52,453.94 224.86,447.67 224.86,378.78 209.82,369.06 193.48,375.33"/><path class="e" d="M193.48,375.33L208.52,385.04L224.86,378.78M208.52,385.04L208.52,453.94"/>
<polygon fill="rgb(12,180,210)" points="97.86,403.49 112.9,413.21 129.24,406.94 129.24,326.05 114.2,316.34 97.86,322.6"/><path class="e" d="M97.86,322.6L112.9,332.32L129.24,326.05M112.9,332.32L112.9,413.21"/>
<polygon fill="rgb(12,180,210)" points="116.66,415.63 131.7,425.35 148.04,419.08 148.04,340.07 133,330.36 116.66,336.63"/><path class="e" d="M116.66,336.63L131.7,346.34L148.04,340.07M131.7,346.34L131.7,425.35"/>
<polygon fill="rgb(12,180,210)" points="135.46,427.77 150.5,437.49 166.84,431.22 166.84,350.45 151.8,340.74 135.46,347"/><path class="e" d="M135.46,347L150.5,356.71L166.84,350.45M150.5,356.71L150.5,437.49"/>
<polygon fill="rgb(12,180,210)" points="154.26,439.91 169.3,449.63 185.64,443.36 185.64,368.12 170.6,358.4 154.26,364.67"/><path class="e" d="M154.26,364.67L169.3,374.38L185.64,368.12M169.3,374.38L169.3,449.63"/>
<polygon fill="rgb(12,180,210)" points="173.06,452.05 188.1,461.77 204.44,455.5 204.44,388.72 189.4,379.01 173.06,385.27"/><path class="e" d="M173.06,385.27L188.1,394.99L204.44,388.72M188.1,394.99L188.1,461.77"/>
<polygon fill="rgb(37,150,232)" points="77.44,411.32 92.48,421.04 108.82,414.77 108.82,334.71 93.78,324.99 77.44,331.26"/><path class="e" d="M77.44,331.26L92.48,340.97L108.82,334.71M92.48,340.97L92.48,421.04"/>
<polygon fill="rgb(37,150,232)" points="96.24,423.46 111.28,433.18 127.62,426.91 127.62,348.61 112.58,338.9 96.24,345.16"/><path class="e" d="M96.24,345.16L111.28,354.87L127.62,348.61M111.28,354.87L111.28,433.18"/>
<polygon fill="rgb(37,150,232)" points="115.04,435.6 130.08,445.32 146.42,439.05 146.42,366.16 131.38,356.45 115.04,362.71"/><path class="e" d="M115.04,362.71L130.08,372.42L146.42,366.16M130.08,372.42L130.08,445.32"/>
<polygon fill="rgb(37,150,232)" points="133.84,447.74 148.88,457.46 165.22,451.19 165.22,377.12 150.18,367.41 133.84,373.67"/><path class="e" d="M133.84,373.67L148.88,383.39L165.22,377.12M148.88,383.39L148.88,457.46"/>
<polygon fill="rgb(37,150,232)" points="152.64,459.88 167.68,469.6 184.02,463.33 184.02,394.91 168.98,385.19 152.64,391.46"/><path class="e" d="M152.64,391.46L167.68,401.17L184.02,394.91M167.68,401.17L167.68,469.6"/>
<polygon fill="rgb(60,111,253)" points="57.02,419.15 72.06,428.87 88.4,422.6 88.4,341.01 73.36,331.3 57.02,337.56"/><path class="e" d="M57.02,337.56L72.06,347.27L88.4,341.01M72.06,347.27L72.06,428.87"/>
<polygon fill="rgb(60,111,253)" points="75.82,431.29 90.86,441.01 107.2,434.74 107.2,354.79 92.16,345.08 75.82,351.35"/><path class="e" d="M75.82,351.35L90.86,361.06L107.2,354.79M90.86,361.06L90.86,441.01"/>
<polygon fill="rgb(60,111,253)" points="94.62,443.43 109.66,453.15 126,446.88 126,369.64 110.96,359.93 94.62,366.19"/><path class="e" d="M94.62,366.19L109.66,375.9L126,369.64M109.66,375.9L109.66,453.15"/>
<polygon fill="rgb(60,111,253)" points="113.42,455.57 128.46,465.29 144.8,459.02 144.8,385.3 129.76,375.59 113.42,381.86"/><path class="e" d="M113.42,381.86L128.46,391.57L144.8,385.3M128.46,391.57L128.46,465.29"/>
<polygon fill="rgb(60,111,253)" points="132.22,467.71 147.26,477.43 163.6,471.16 163.6,408.5 148.56,398.78 132.22,405.05"/><path class="e" d="M132.22,405.05L147.26,414.76L163.6,408.5M147.26,414.76L147.26,477.43"/>
<polygon fill="rgb(71,67,233)" points="36.6,426.98 51.64,436.7 67.98,430.43 67.98,350.01 52.94,340.3 36.6,346.57"/><path class="e" d="M36.6,346.57L51.64,356.28L67.98,350.01M51.64,356.28L51.64,436.7"/>
<polygon fill="rgb(71,67,233)" points="55.4,439.12 70.44,448.84 86.78,442.57 86.78,362.39 71.74,352.68 55.4,358.94"/><path class="e" d="M55.4,358.94L70.44,368.65L86.78,362.39M70.44,368.65L70.44,448.84"/>
<polygon fill="rgb(71,67,233)" points="74.2,451.26 89.24,460.98 105.58,454.71 105.58,373.24 90.54,363.52 74.2,369.79"/><path class="e" d="M74.2,369.79L89.24,379.5L105.58,373.24M89.24,379.5L89.24,460.98"/>
<polygon fill="rgb(71,67,233)" points="93,463.4 108.04,473.12 124.38,466.85 124.38,397.96 109.34,388.24 93,394.51"/><path class="e" d="M93,394.51L108.04,404.22L124.38,397.96M108.04,404.22L108.04,473.12"/>
<polygon fill="rgb(71,67,233)" points="111.8,475.54 126.84,485.26 143.18,478.99 143.18,409.39 128.14,399.68 111.8,405.94"/><path class="e" d="M111.8,405.94L126.84,415.65L143.18,409.39M126.84,415.65L126.84,485.26"/>
<polygon fill="rgb(62,38,168)" points="16.18,434.81 31.22,444.53 47.56,438.26 47.56,360.08 32.52,350.37 16.18,356.63"/><path class="e" d="M16.18,356.63L31.22,366.34L47.56,360.08M31.22,366.34L31.22,444.53"/>
<polygon fill="rgb(62,38,168)" points="34.98,446.95 50.02,456.67 66.36,450.4 66.36,371.28 51.32,361.56 34.98,367.83"/><path class="e" d="M34.98,367.83L50.02,377.54L66.36,371.28M50.02,377.54L50.02,456.67"/>
<polygon fill="rgb(62,38,168)" points="53.78,459.09 68.82,468.81 85.16,462.54 85.16,397.53 70.12,387.81 53.78,394.08"/><path class="e" d="M53.78,394.08L68.82,403.79L85.16,397.53M68.82,403.79L68.82,468.81"/>
<polygon fill="rgb(62,38,168)" points="72.58,471.23 87.62,480.95 103.96,474.68 103.96,407.31 88.92,397.6 72.58,403.87"/><path class="e" d="M72.58,403.87L87.62,413.58L103.96,407.31M87.62,413.58L87.62,480.95"/>
<polygon fill="rgb(62,38,168)" points="91.38,483.37 106.42,493.09 122.76,486.82 122.76,425.68 107.72,415.97 91.38,422.24"/><path class="e" d="M91.38,422.24L106.42,431.95L122.76,425.68M106.42,431.95L106.42,493.09"/>
<g><line class="g" x1="397.82" y1="430.47" x2="397.82" y2="347.77"/><line class="g" x1="418.24" y1="422.64" x2="418.24" y2="339.94"/><line class="g" x1="438.66" y1="414.81" x2="438.66" y2="332.11"/><line class="g" x1="459.08" y1="406.98" x2="459.08" y2="324.28"/><line class="g" x1="479.5" y1="399.15" x2="479.5" y2="316.45"/><line class="g" x1="499.92" y1="391.32" x2="499.92" y2="308.62"/><line class="g" x1="520.34" y1="383.49" x2="520.34" y2="300.79"/><line class="g" x1="540.76" y1="375.66" x2="540.76" y2="292.96"/><line class="g" x1="561.18" y1="367.83" x2="561.18" y2="286.8"/><line class="g" x1="581.6" y1="360" x2="581.6" y2="286.8"/><line class="g" x1="389.65" y1="424.41" x2="589.77" y2="347.68"/><line class="g" x1="389.65" y1="415.22" x2="589.77" y2="338.49"/><line class="g" x1="389.65" y1="406.03" x2="589.77" y2="329.3"/><line class="g" x1="389.65" y1="396.84" x2="589.77" y2="320.11"/><line class="g" x1="389.65" y1="387.66" x2="589.77" y2="310.92"/><line class="g" x1="389.65" y1="378.47" x2="589.77" y2="301.73"/><line class="g" x1="389.65" y1="369.28" x2="589.77" y2="292.54"/><line class="g" x1="389.65" y1="360.09" x2="580.78" y2="286.8"/><line class="g" x1="389.65" y1="350.9" x2="556.82" y2="286.8"/><line class="g" x1="599.17" y1="362.94" x2="599.17" y2="286.8"/><line class="g" x1="617.97" y1="375.08" x2="617.97" y2="292.38"/><line class="g" x1="636.77" y1="387.22" x2="636.77" y2="304.52"/><line class="g" x1="655.57" y1="399.36" x2="655.57" y2="316.66"/><line class="g" x1="674.37" y1="411.5" x2="674.37" y2="328.8"/><line class="g" x1="589.77" y1="356.87" x2="683.77" y2="417.57"/><line class="g" x1="589.77" y1="347.68" x2="683.77" y2="408.38"/><line class="g" x1="589.77" y1="338.49" x2="683.77" y2="399.19"/><line class="g" x1="589.77" y1="329.3" x2="683.77" y2="390"/><line class="g" x1="589.77" y1="320.11" x2="683.77" y2="380.81"/><line class="g" x1="589.77" y1="310.92" x2="683.77" y2="371.62"/><line class="g" x1="589.77" y1="301.73" x2="683.77" y2="362.43"/><line class="g" x1="589.77" y1="292.54" x2="683.77" y2="353.24"/><line class="g" x1="595.1" y1="286.8" x2="683.77" y2="344.05"/><line class="g" x1="609.33" y1="286.8" x2="683.77" y2="334.87"/><line class="g" x1="397.82" y1="430.47" x2="491.82" y2="491.17"/><line class="g" x1="418.24" y1="422.64" x2="512.24" y2="483.34"/><line class="g" x1="438.66" y1="414.81" x2="532.66" y2="475.51"/><line class="g" x1="459.08" y1="406.98" x2="553.08" y2="467.68"/><line class="g" x1="479.5" y1="399.15" x2="573.5" y2="459.85"/><line class="g" x1="499.92" y1="391.32" x2="593.92" y2="452.02"/><line class="g" x1="520.34" y1="383.49" x2="614.34" y2="444.19"/><line class="g" x1="540.76" y1="375.66" x2="634.76" y2="436.36"/><line class="g" x1="561.18" y1="367.83" x2="655.18" y2="428.53"/><line class="g" x1="581.6" y1="360" x2="675.6" y2="420.7"/><line class="g" x1="399.05" y1="439.67" x2="599.17" y2="362.94"/><line class="g" x1="417.85" y1="451.81" x2="617.97" y2="375.08"/><line class="g" x1="436.65" y1="463.95" x2="636.77" y2="387.22"/><line class="g" x1="455.45" y1="476.09" x2="655.57" y2="399.36"/><line class="g" x1="474.25" y1="488.23" x2="674.37" y2="411.5"/><line class="g" x1="589.77" y1="356.87" x2="589.77" y2="286.8"/><line class="g" x1="389.65" y1="433.6" x2="589.77" y2="356.87"/></g>
<g><line class="zx" x1="389.65" y1="433.6" x2="389.65" y2="350.9"/><line class="a" x1="389.65" y1="433.6" x2="483.65" y2="494.3"/><line class="a" x1="483.65" y1="494.3" x2="683.77" y2="417.57"/><line class="a" x1="389.65" y1="433.6" x2="385.51" y2="430.93"/><line class="a" x1="389.65" y1="424.41" x2="385.51" y2="421.74"/><line class="a" x1="389.65" y1="415.22" x2="385.51" y2="412.55"/><line class="a" x1="389.65" y1="406.03" x2="385.51" y2="403.36"/><line class="a" x1="389.65" y1="396.84" x2="385.51" y2="394.17"/><line class="a" x1="389.65" y1="387.66" x2="385.51" y2="384.98"/><line class="a" x1="389.65" y1="378.47" x2="385.51" y2="375.8"/><line class="a" x1="389.65" y1="369.28" x2="385.51" y2="366.61"/><line class="a" x1="389.65" y1="360.09" x2="385.51" y2="357.42"/><line class="a" x1="389.65" y1="350.9" x2="385.51" y2="348.23"/><line class="a" x1="399.05" y1="439.67" x2="394.56" y2="441.39"/><line class="a" x1="417.85" y1="451.81" x2="413.36" y2="453.53"/><line class="a" x1="436.65" y1="463.95" x2="432.16" y2="465.67"/><line class="a" x1="455.45" y1="476.09" x2="450.96" y2="477.81"/><line class="a" x1="474.25" y1="488.23" x2="469.76" y2="489.95"/><line class="a" x1="491.82" y1="491.17" x2="497.46" y2="494.81"/><line class="a" x1="512.24" y1="483.34" x2="517.88" y2="486.98"/><line class="a" x1="532.66" y1="475.51" x2="538.3" y2="479.15"/><line class="a" x1="553.08" y1="467.68" x2="558.72" y2="471.32"/><line class="a" x1="573.5" y1="459.85" x2="579.14" y2="463.49"/><line class="a" x1="593.92" y1="452.02" x2="599.56" y2="455.66"/><line class="a" x1="614.34" y1="444.19" x2="619.98" y2="447.83"/><line class="a" x1="634.76" y1="436.36" x2="640.4" y2="440"/><line class="a" x1="655.18" y1="428.53" x2="660.82" y2="432.17"/><line class="a" x1="675.6" y1="420.7" x2="681.24" y2="424.34"/></g>
<g><text class="tl" x="384.35" y="431.3" text-anchor="end" font-size="4">0</text><text class="tl" x="384.35" y="422.11" text-anchor="end" font-size="4">5</text><text class="tl" x="384.35" y="412.92" text-anchor="end" font-size="4">10</text><text class="tl" x="384.35" y="403.73" text-anchor="end" font-size="4">15</text><text class="tl" x="384.35" y="394.54" text-anchor="end" font-size="4">20</text><text class="tl" x="384.35" y="385.36" text-anchor="end" font-size="4">25</text><text class="tl" x="384.35" y="376.17" text-anchor="end" font-size="4">30</text><text class="tl" x="384.35" y="366.98" text-anchor="end" font-size="4">35</text><text class="tl" x="384.35" y="357.79" text-anchor="end" font-size="4">40</text><text class="tl" x="384.35" y="348.6" text-anchor="end" font-size="4">45</text><text class="tl" x="392.95" y="446.37" text-anchor="end" font-size="4">10<tspan dy="-2.4" font-size="2.72">-3</tspan></text><text class="tl" x="411.75" y="458.51" text-anchor="end" font-size="4">10<tspan dy="-2.4" font-size="2.72">-1</tspan></text><text class="tl" x="430.55" y="469.53" text-anchor="end" font-size="4">1</text><text class="tl" x="449.35" y="482.79" text-anchor="end" font-size="4">10<tspan dy="-2.4" font-size="2.72">1</tspan></text><text class="tl" x="468.15" y="494.93" text-anchor="end" font-size="4">10<tspan dy="-2.4" font-size="2.72">3</tspan></text><text class="tl" x="498.12" y="498.37" text-anchor="middle" font-size="4">1</text><text class="tl" x="518.54" y="490.54" text-anchor="middle" font-size="4">2</text><text class="tl" x="538.96" y="482.71" text-anchor="middle" font-size="4">3</text><text class="tl" x="559.38" y="474.88" text-anchor="middle" font-size="4">4</text><text class="tl" x="579.8" y="467.05" text-anchor="middle" font-size="4">5</text><text class="tl" x="600.22" y="459.22" text-anchor="middle" font-size="4">6</text><text class="tl" x="620.64" y="451.39" text-anchor="middle" font-size="4">7</text><text class="tl" x="641.06" y="443.56" text-anchor="middle" font-size="4">8</text><text class="tl" x="661.48" y="435.73" text-anchor="middle" font-size="4">9</text><text class="tl" x="681.9" y="427.9" text-anchor="middle" font-size="4">10</text><text class="tl" x="399.05" y="482.2" text-anchor="middle" font-size="4.4">&#945;</text><text class="tl" x="547.95" y="488.8" text-anchor="middle" font-size="4.4">&#955;</text><text class="zl" transform="translate(377.58,391.5) rotate(-90)" text-anchor="middle" font-size="4.4" textLength="15.5" lengthAdjust="spacingAndGlyphs">NMI (%)</text></g>
<polygon fill="rgb(249,251,21)" points="575.31,364.34 590.35,374.06 606.69,367.79 606.69,305.31 591.65,295.6 575.31,301.86"/><path class="e" d="M575.31,301.86L590.35,311.57L606.69,305.31M590.35,311.57L590.35,374.06"/>
<polygon fill="rgb(249,251,21)" points="594.11,376.48 609.15,386.2 625.49,379.93 625.49,315.24 610.45,305.53 594.11,311.79"/><path class="e" d="M594.11,311.79L609.15,321.51L625.49,315.24M609.15,321.51L609.15,386.2"/>
<polygon fill="rgb(249,251,21)" points="612.91,388.62 627.95,398.34 644.29,392.07 644.29,318.19 629.25,308.48 612.91,314.75"/><path class="e" d="M612.91,314.75L627.95,324.46L644.29,318.19M627.95,324.46L627.95,398.34"/>
<polygon fill="rgb(249,251,21)" points="631.71,400.76 646.75,410.48 663.09,404.21 663.09,347.06 648.05,337.35 631.71,343.61"/><path class="e" d="M631.71,343.61L646.75,353.32L663.09,347.06M646.75,353.32L646.75,410.48"/>
<polygon fill="rgb(249,251,21)" points="650.51,412.9 665.55,422.62 681.89,416.35 681.89,358.46 666.85,348.75 650.51,355.01"/><path class="e" d="M650.51,355.01L665.55,364.73L681.89,358.46M665.55,364.73L665.55,422.62"/>
<polygon fill="rgb(253,202,48)" points="554.89,372.17 569.93,381.89 586.27,375.62 586.27,314.98 571.23,305.26 554.89,311.53"/><path class="e" d="M554.89,311.53L569.93,321.24L586.27,314.98M569.93,321.24L569.93,381.89"/>
<polygon fill="rgb(253,202,48)" points="573.69,384.31 588.73,394.03 605.07,387.76 605.07,322.52 590.03,312.81 573.69,319.07"/><path class="e" d="M573.69,319.07L588.73,328.78L605.07,322.52M588.73,328.78L588.73,394.03"/>
<polygon fill="rgb(253,202,48)" points="592.49,396.45 607.53,406.17 623.87,399.9 623.87,327.13 608.83,317.41 592.49,323.68"/><path class="e" d="M592.49,323.68L607.53,333.39L623.87,327.13M607.53,333.39L607.53,406.17"/>
<polygon fill="rgb(253,202,48)" points="611.29,408.59 626.33,418.31 642.67,412.04 642.67,354.34 627.63,344.62 611.29,350.89"/><path class="e" d="M611.29,350.89L626.33,360.6L642.67,354.34M626.33,360.6L626.33,418.31"/>
<polygon fill="rgb(253,202,48)" points="630.09,420.73 645.13,430.45 661.47,424.18 661.47,367.21 646.43,357.5 630.09,363.76"/><path class="e" d="M630.09,363.76L645.13,373.47L661.47,367.21M645.13,373.47L645.13,430.45"/>
<polygon fill="rgb(221,187,43)" points="534.47,380 549.51,389.72 565.85,383.45 565.85,314.17 550.81,304.46 534.47,310.72"/><path class="e" d="M534.47,310.72L549.51,320.43L565.85,314.17M549.51,320.43L549.51,389.72"/>
<polygon fill="rgb(221,187,43)" points="553.27,392.14 568.31,401.86 584.65,395.59 584.65,327.96 569.61,318.25 553.27,324.51"/><path class="e" d="M553.27,324.51L568.31,334.23L584.65,327.96M568.31,334.23L568.31,401.86"/>
<polygon fill="rgb(221,187,43)" points="572.07,404.28 587.11,414 603.45,407.73 603.45,341.57 588.41,331.86 572.07,338.12"/><path class="e" d="M572.07,338.12L587.11,347.84L603.45,341.57M587.11,347.84L587.11,414"/>
<polygon fill="rgb(221,187,43)" points="590.87,416.42 605.91,426.14 622.25,419.87 622.25,358.86 607.21,349.15 590.87,355.41"/><path class="e" d="M590.87,355.41L605.91,365.12L622.25,358.86M605.91,365.12L605.91,426.14"/>
<polygon fill="rgb(221,187,43)" points="609.67,428.56 624.71,438.28 641.05,432.01 641.05,376.51 626.01,366.8 609.67,373.06"/><path class="e" d="M609.67,373.06L624.71,382.78L641.05,376.51M624.71,382.78L624.71,438.28"/>
<polygon fill="rgb(128,203,82)" points="514.05,387.83 529.09,397.55 545.43,391.28 545.43,319.79 530.39,310.08 514.05,316.34"/><path class="e" d="M514.05,316.34L529.09,326.06L545.43,319.79M529.09,326.06L529.09,397.55"/>
<polygon fill="rgb(128,203,82)" points="532.85,399.97 547.89,409.69 564.23,403.42 564.23,333.4 549.19,323.69 532.85,329.95"/><path class="e" d="M532.85,329.95L547.89,339.67L564.23,333.4M547.89,339.67L547.89,409.69"/>
<polygon fill="rgb(128,203,82)" points="551.65,412.11 566.69,421.83 583.03,415.56 583.03,346.09 567.99,336.38 551.65,342.65"/><path class="e" d="M551.65,342.65L566.69,352.36L583.03,346.09M566.69,352.36L566.69,421.83"/>
<polygon fill="rgb(128,203,82)" points="570.45,424.25 585.49,433.97 601.83,427.7 601.83,356.76 586.79,347.05 570.45,353.32"/><path class="e" d="M570.45,353.32L585.49,363.03L601.83,356.76M585.49,363.03L585.49,433.97"/>
<polygon fill="rgb(128,203,82)" points="589.25,436.39 604.29,446.11 620.63,439.84 620.63,374.6 605.59,364.89 589.25,371.15"/><path class="e" d="M589.25,371.15L604.29,380.86L620.63,374.6M604.29,380.86L604.29,446.11"/>
<polygon fill="rgb(45,192,160)" points="493.63,395.66 508.67,405.38 525.01,399.11 525.01,328.91 509.97,319.2 493.63,325.46"/><path class="e" d="M493.63,325.46L508.67,335.17L525.01,328.91M508.67,335.17L508.67,405.38"/>
<polygon fill="rgb(45,192,160)" points="512.43,407.8 527.47,417.52 543.81,411.25 543.81,342.52 528.77,332.81 512.43,339.07"/><path class="e" d="M512.43,339.07L527.47,348.78L543.81,342.52M527.47,348.78L527.47,417.52"/>
<polygon fill="rgb(45,192,160)" points="531.23,419.94 546.27,429.66 562.61,423.39 562.61,350.25 547.57,340.54 531.23,346.8"/><path class="e" d="M531.23,346.8L546.27,356.51L562.61,350.25M546.27,356.51L546.27,429.66"/>
<polygon fill="rgb(45,192,160)" points="550.03,432.08 565.07,441.8 581.41,435.53 581.41,363.67 566.37,353.96 550.03,360.23"/><path class="e" d="M550.03,360.23L565.07,369.94L581.41,363.67M565.07,369.94L565.07,441.8"/>
<polygon fill="rgb(45,192,160)" points="568.83,444.22 583.87,453.94 600.21,447.67 600.21,382.06 585.17,372.35 568.83,378.62"/><path class="e" d="M568.83,378.62L583.87,388.33L600.21,382.06M583.87,388.33L583.87,453.94"/>
<polygon fill="rgb(12,180,210)" points="473.21,403.49 488.25,413.21 504.59,406.94 504.59,334.17 489.55,324.45 473.21,330.72"/><path class="e" d="M473.21,330.72L488.25,340.43L504.59,334.17M488.25,340.43L488.25,413.21"/>
<polygon fill="rgb(12,180,210)" points="492.01,415.63 507.05,425.35 523.39,419.08 523.39,345.2 508.35,335.49 492.01,341.76"/><path class="e" d="M492.01,341.76L507.05,351.47L523.39,345.2M507.05,351.47L507.05,425.35"/>
<polygon fill="rgb(12,180,210)" points="510.81,427.77 525.85,437.49 542.19,431.22 542.19,355.14 527.15,345.43 510.81,351.69"/><path class="e" d="M510.81,351.69L525.85,361.4L542.19,355.14M525.85,361.4L525.85,437.49"/>
<polygon fill="rgb(12,180,210)" points="529.61,439.91 544.65,449.63 560.99,443.36 560.99,372.06 545.95,362.34 529.61,368.61"/><path class="e" d="M529.61,368.61L544.65,378.32L560.99,372.06M544.65,378.32L544.65,449.63"/>
<polygon fill="rgb(12,180,210)" points="548.41,452.05 563.45,461.77 579.79,455.5 579.79,391.91 564.75,382.2 548.41,388.47"/><path class="e" d="M548.41,388.47L563.45,398.18L579.79,391.91M563.45,398.18L563.45,461.77"/>
<polygon fill="rgb(37,150,232)" points="452.79,411.32 467.83,421.04 484.17,414.77 484.17,339.42 469.13,329.71 452.79,335.98"/><path class="e" d="M452.79,335.98L467.83,345.69L484.17,339.42M467.83,345.69L467.83,421.04"/>
<polygon fill="rgb(37,150,232)" points="471.59,423.46 486.63,433.18 502.97,426.91 502.97,355.05 487.93,345.34 471.59,351.61"/><path class="e" d="M471.59,351.61L486.63,361.32L502.97,355.05M486.63,361.32L486.63,433.18"/>
<polygon fill="rgb(37,150,232)" points="490.39,435.6 505.43,445.32 521.77,439.05 521.77,368.48 506.73,358.77 490.39,365.03"/><path class="e" d="M490.39,365.03L505.43,374.75L521.77,368.48M505.43,374.75L505.43,445.32"/>
<polygon fill="rgb(37,150,232)" points="509.19,447.74 524.23,457.46 540.57,451.19 540.57,382.09 525.53,372.38 509.19,378.64"/><path class="e" d="M509.19,378.64L524.23,388.36L540.57,382.09M524.23,388.36L524.23,457.46"/>
<polygon fill="rgb(37,150,232)" points="527.99,459.88 543.03,469.6 559.37,463.33 559.37,400.11 544.33,390.4 527.99,396.66"/><path class="e" d="M527.99,396.66L543.03,406.38L559.37,400.11M543.03,406.38L543.03,469.6"/>
<polygon fill="rgb(60,111,253)" points="432.37,419.15 447.41,428.87 463.75,422.6 463.75,345.42 448.71,335.7 432.37,341.97"/><path class="e" d="M432.37,341.97L447.41,351.68L463.75,345.42M447.41,351.68L447.41,428.87"/>
<polygon fill="rgb(60,111,253)" points="451.17,431.29 466.21,441.01 482.55,434.74 482.55,360.68 467.51,350.97 451.17,357.23"/><path class="e" d="M451.17,357.23L466.21,366.94L482.55,360.68M466.21,366.94L466.21,441.01"/>
<polygon fill="rgb(60,111,253)" points="469.97,443.43 485.01,453.15 501.35,446.88 501.35,373.37 486.31,363.66 469.97,369.92"/><path class="e" d="M469.97,369.92L485.01,379.63L501.35,373.37M485.01,379.63L485.01,453.15"/>
<polygon fill="rgb(60,111,253)" points="488.77,455.57 503.81,465.29 520.15,459.02 520.15,390.84 505.11,381.13 488.77,387.39"/><path class="e" d="M488.77,387.39L503.81,397.1L520.15,390.84M503.81,397.1L503.81,465.29"/>
<polygon fill="rgb(60,111,253)" points="507.57,467.71 522.61,477.43 538.95,471.16 538.95,408.13 523.91,398.41 507.57,404.68"/><path class="e" d="M507.57,404.68L522.61,414.39L538.95,408.13M522.61,414.39L522.61,477.43"/>
<polygon fill="rgb(71,67,233)" points="411.95,426.98 426.99,436.7 443.33,430.43 443.33,354.72 428.29,345 411.95,351.27"/><path class="e" d="M411.95,351.27L426.99,360.98L443.33,354.72M426.99,360.98L426.99,436.7"/>
<polygon fill="rgb(71,67,233)" points="430.75,439.12 445.79,448.84 462.13,442.57 462.13,367.04 447.09,357.33 430.75,363.59"/><path class="e" d="M430.75,363.59L445.79,373.3L462.13,367.04M445.79,373.3L445.79,448.84"/>
<polygon fill="rgb(71,67,233)" points="449.55,451.26 464.59,460.98 480.93,454.71 480.93,378.08 465.89,368.36 449.55,374.63"/><path class="e" d="M449.55,374.63L464.59,384.34L480.93,378.08M464.59,384.34L464.59,460.98"/>
<polygon fill="rgb(71,67,233)" points="468.35,463.4 483.39,473.12 499.73,466.85 499.73,402.9 484.69,393.19 468.35,399.45"/><path class="e" d="M468.35,399.45L483.39,409.16L499.73,402.9M483.39,409.16L483.39,473.12"/>
<polygon fill="rgb(71,67,233)" points="487.15,475.54 502.19,485.26 518.53,478.99 518.53,418.35 503.49,408.63 487.15,414.9"/><path class="e" d="M487.15,414.9L502.19,424.61L518.53,418.35M502.19,424.61L502.19,485.26"/>
<polygon fill="rgb(62,38,168)" points="391.53,434.81 406.57,444.53 422.91,438.26 422.91,364.38 407.87,354.67 391.53,360.94"/><path class="e" d="M391.53,360.94L406.57,370.65L422.91,364.38M406.57,370.65L406.57,444.53"/>
<polygon fill="rgb(62,38,168)" points="410.33,446.95 425.37,456.67 441.71,450.4 441.71,379.1 426.67,369.38 410.33,375.65"/><path class="e" d="M410.33,375.65L425.37,385.36L441.71,379.1M425.37,385.36L425.37,456.67"/>
<polygon fill="rgb(62,38,168)" points="429.13,459.09 444.17,468.81 460.51,462.54 460.51,401.34 445.47,391.63 429.13,397.9"/><path class="e" d="M429.13,397.9L444.17,407.61L460.51,401.34M444.17,407.61L444.17,468.81"/>
<polygon fill="rgb(62,38,168)" points="447.93,471.23 462.97,480.95 479.31,474.68 479.31,412.57 464.27,402.85 447.93,409.12"/><path class="e" d="M447.93,409.12L462.97,418.83L479.31,412.57M462.97,418.83L462.97,480.95"/>
<polygon fill="rgb(62,38,168)" points="466.73,483.37 481.77,493.09 498.11,486.82 498.11,434.08 483.07,424.37 466.73,430.63"/><path class="e" d="M466.73,430.63L481.77,440.34L498.11,434.08M481.77,440.34L481.77,493.09"/>
<text class="cap" x="20.6" y="252.3" letter-spacing="0.6">(a) Cora-ACC</text>
<text class="cap" x="396.6" y="252.3" letter-spacing="0.47">(b) Cora-NMI</text>
<text class="cap" x="24.8" y="543" letter-spacing="0.47">(c) Cite-ACC</text>
<text class="cap" x="400.3" y="543" letter-spacing="0.46">(d) Cite-NMI</text>
</svg>
</body></html>
